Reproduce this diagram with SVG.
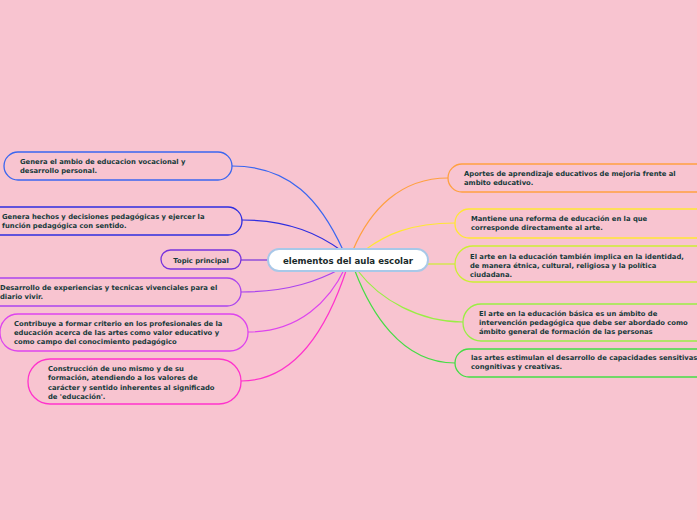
<svg xmlns="http://www.w3.org/2000/svg" width="697" height="520" viewBox="0 0 697 520">
<style>
.n{fill:none;stroke-width:1.3}
.t{font-family:"DejaVu Sans",Verdana,sans-serif;font-weight:bold;font-size:6.8px;fill:#163a3a}
.c{fill:none;stroke-width:1.2}
</style>
<rect width="697" height="520" fill="#f8c4d0"/>
<g id="connectors">
<path class="c" stroke="#3a66f0" d="M232,166 C290,166 320,200 343,250"/>
<path class="c" stroke="#2e2ee0" d="M242,220 C290,220 320,235 342,251"/>
<path class="c" stroke="#7733dd" d="M241,260 L268,260"/>
<path class="c" stroke="#aa44ee" d="M241,292 C290,292 320,280 342,268"/>
<path class="c" stroke="#dd44ee" d="M248,332 C300,332 330,300 345,268"/>
<path class="c" stroke="#ff33cc" d="M241,381 C300,381 330,320 347,268"/>
<path class="c" stroke="#ffa040" d="M448,178 C400,178 370,210 353,250"/>
<path class="c" stroke="#ffe633" d="M455,223 C410,223 385,235 365,250"/>
<path class="c" stroke="#ccee33" d="M428,264 L455,264"/>
<path class="c" stroke="#99ee44" d="M463,322 C420,322 380,300 358,271"/>
<path class="c" stroke="#44dd44" d="M455,363 C400,363 370,310 355,271"/>
</g>
<g id="center">
<rect x="268" y="249" width="160" height="22" rx="11" fill="#fff" stroke="#a8c8e8" stroke-width="2"/>
<text x="348" y="263.5" text-anchor="middle" style="font-family:'DejaVu Sans',Verdana,sans-serif;font-weight:bold;font-size:8.6px;fill:#1a2a2a">elementos del aula escolar</text>
</g>
<g id="l1"><rect class="n" x="4" y="152" width="228" height="28" rx="14" stroke="#3a66f0"/><text class="t" x="20" y="164">Genera el ambio de educacion vocacional y<tspan x="20" dy="9">desarrollo personal.</tspan></text></g>
<g id="l2"><rect class="n" x="-20" y="207" width="262" height="28" rx="14" stroke="#2e2ee0"/><text class="t" x="2" y="219">Genera hechos y decisiones pedagógicas y ejercer la<tspan x="2" dy="9">función pedagógica con sentido.</tspan></text></g>
<g id="l3"><rect class="n" x="161" y="250" width="80" height="19" rx="9.5" stroke="#7733dd"/><text class="t" x="201" y="262.5" text-anchor="middle">Topic principal</text></g>
<g id="l4"><rect class="n" x="-20" y="278" width="261" height="28" rx="14" stroke="#aa44ee"/><text class="t" x="0" y="290">Desarrollo de experiencias y tecnicas vivenciales para el<tspan x="0" dy="9">diario vivir.</tspan></text></g>
<g id="l5"><rect class="n" x="0" y="314" width="248" height="37" rx="18" stroke="#dd44ee"/><text class="t" x="14" y="326">Contribuye a formar criterio en los profesionales de la<tspan x="14" dy="9">educación acerca de las artes como valor educativo y</tspan><tspan x="14" dy="9">como campo del conocimiento pedagógico</tspan></text></g>
<g id="l6"><rect class="n" x="28" y="359" width="213" height="45" rx="22" stroke="#ff33cc"/><text class="t" x="48" y="371">Construcción de uno mismo y de su<tspan x="48" dy="9.3">formación, atendiendo a los valores de</tspan><tspan x="48" dy="9.3">carácter y sentido inherentes al significado</tspan><tspan x="48" dy="9.3">de 'educación'.</tspan></text></g>
<g id="r1"><rect class="n" x="448" y="164" width="270" height="28" rx="14" stroke="#ffa040"/><text class="t" x="464" y="176">Aportes de aprendizaje educativos de mejoria frente al<tspan x="464" dy="9">ambito educativo.</tspan></text></g>
<g id="r2"><rect class="n" x="455" y="209" width="260" height="29" rx="14" stroke="#ffe633"/><text class="t" x="471" y="221">Mantiene una reforma de educación en la que<tspan x="471" dy="9">corresponde directamente al arte.</tspan></text></g>
<g id="r3"><rect class="n" x="455" y="246" width="260" height="36" rx="18" stroke="#ccee33"/><text class="t" x="470" y="259">El arte en la educación también implica en la identidad,<tspan x="470" dy="9">de manera étnica, cultural, religiosa y la política</tspan><tspan x="470" dy="9">ciudadana.</tspan></text></g>
<g id="r4"><rect class="n" x="463" y="304" width="260" height="37" rx="18" stroke="#99ee44"/><text class="t" x="479" y="316">El arte en la educación básica es un ámbito de<tspan x="479" dy="9">intervención pedagógica que debe ser abordado como</tspan><tspan x="479" dy="9">ámbito general de formación de las personas</tspan></text></g>
<g id="r5"><rect class="n" x="455" y="349" width="260" height="28" rx="14" stroke="#44dd44"/><text class="t" x="471" y="360">las artes estimulan el desarrollo de capacidades sensitivas,<tspan x="471" dy="9">congnitivas y creativas.</tspan></text></g>
</svg>
